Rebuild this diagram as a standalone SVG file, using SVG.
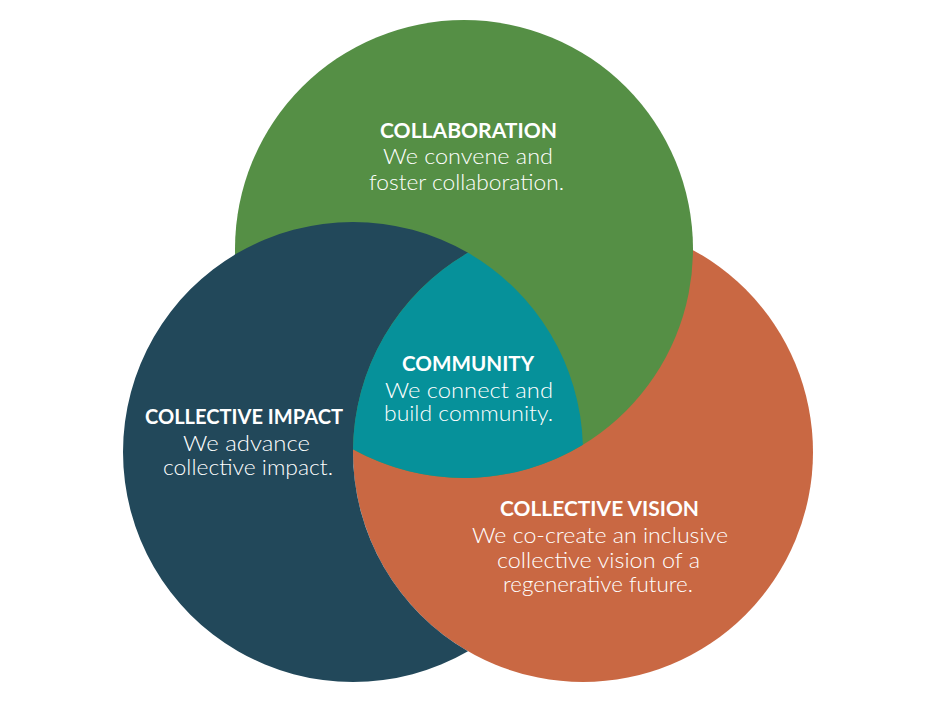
<svg xmlns="http://www.w3.org/2000/svg" width="936" height="702" viewBox="0 0 936 702">
  <style>
    .h { font-family: "Lato", "Liberation Sans", sans-serif; font-weight: 700; font-size: 21px; fill: #ffffff; text-anchor: middle; }
    .b { font-family: "Lato", "Liberation Sans", sans-serif; font-weight: 300; font-size: 21px; fill: #ffffff; text-anchor: middle; }
  </style>
  <rect x="0" y="0" width="936" height="702" fill="#ffffff"/>
  <g id="collective-vision-circle">
    <circle cx="583" cy="452" r="230" fill="#C96843"/>
  </g>
  <g id="collaboration-circle">
    <circle cx="464" cy="249" r="229" fill="#558F45"/>
  </g>
  <g id="collective-impact-circle">
    <path d="M468,252.81 A230,230 0 1,0 468,651.19 A230,230 0 0,1 468,252.81 Z" fill="#22485A"/>
  </g>
  <g id="community-circle">
    <path d="M468,252.81 A230,230 0 0,0 353.01,449.31 A229,229 0 0,0 582.89,444.72 A230,230 0 0,0 468,252.81 Z" fill="#06919A"/>
  </g>
  <g id="collaboration">
    <text class="h" x="468.5" y="138" textLength="177" lengthAdjust="spacingAndGlyphs">COLLABORATION</text>
    <text class="b" x="468" y="164" textLength="170" lengthAdjust="spacingAndGlyphs">We convene and</text>
    <text class="b" x="466.5" y="190" textLength="195" lengthAdjust="spacingAndGlyphs">foster collaboration.</text>
  </g>
  <g id="community">
    <text class="h" x="468" y="371" textLength="132" lengthAdjust="spacingAndGlyphs">COMMUNITY</text>
    <text class="b" x="469" y="398" textLength="168" lengthAdjust="spacingAndGlyphs">We connect and</text>
    <text class="b" x="468.5" y="421" textLength="169" lengthAdjust="spacingAndGlyphs">build community.</text>
  </g>
  <g id="collective-impact">
    <text class="h" x="244" y="424" textLength="198" lengthAdjust="spacingAndGlyphs">COLLECTIVE IMPACT</text>
    <text class="b" x="246.5" y="451" textLength="127" lengthAdjust="spacingAndGlyphs">We advance</text>
    <text class="b" x="248" y="475" textLength="170" lengthAdjust="spacingAndGlyphs">collective impact.</text>
  </g>
  <g id="collective-vision">
    <text class="h" x="599.5" y="516" textLength="199" lengthAdjust="spacingAndGlyphs">COLLECTIVE VISION</text>
    <text class="b" x="600" y="543" textLength="256" lengthAdjust="spacingAndGlyphs">We co-create an inclusive</text>
    <text class="b" x="598.5" y="568" textLength="203" lengthAdjust="spacingAndGlyphs">collective vision of a</text>
    <text class="b" x="598" y="592" textLength="190" lengthAdjust="spacingAndGlyphs">regenerative future.</text>
  </g>
</svg>
